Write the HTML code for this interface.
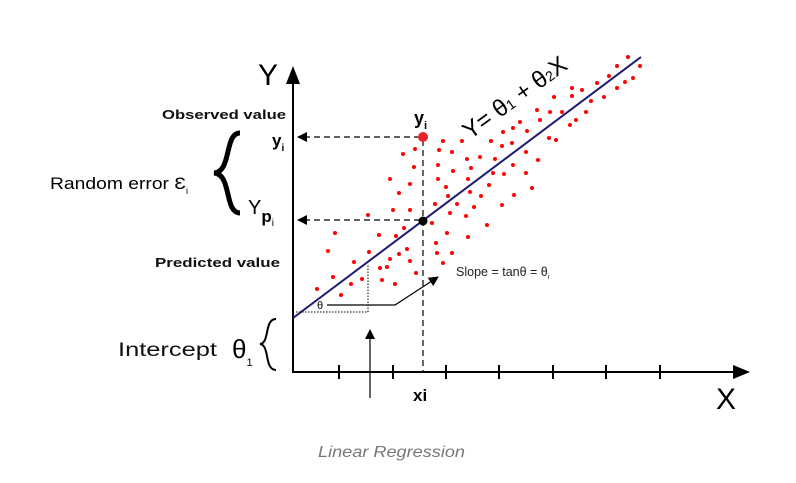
<!DOCTYPE html>
<html><head><meta charset="utf-8"><style>
body{margin:0;background:#fff}
svg{display:block}
text{font-family:"Liberation Sans",sans-serif}
</style></head><body>
<svg width="796" height="483" viewBox="0 0 796 483">
<defs>
<marker id="ah" markerWidth="10" markerHeight="10" refX="9" refY="5" orient="auto" markerUnits="userSpaceOnUse"><path d="M0,0 L10,5 L0,10 Z" fill="#000"/></marker>
</defs>
<line x1="293" y1="372" x2="293" y2="72" stroke="#000" stroke-width="2"/>
<path d="M286,84 L293,66 L300,84 Z" fill="#000"/>
<line x1="292" y1="372" x2="740" y2="372" stroke="#000" stroke-width="2"/>
<path d="M733,365 L750,372 L733,379 Z" fill="#000"/>
<g id="ticks" stroke="#000" stroke-width="2"></g>
<text x="258" y="85" font-size="30">Y</text>
<text x="716" y="409" font-size="30">X</text>
<text x="413" y="401" font-size="17" font-weight="bold">xi</text>
<g id="dots" fill="#f00"></g>
<line id="reg" stroke="#1a1a6e" stroke-width="2"/>
<line x1="423" y1="140" x2="423" y2="372" stroke="#000" stroke-dasharray="6,4" stroke-width="1.2"/>
<line x1="420" y1="137" x2="298" y2="137" stroke="#000" stroke-dasharray="6,4" stroke-width="1.2" marker-end="url(#ah)"/>
<line x1="420" y1="220" x2="298" y2="220" stroke="#000" stroke-dasharray="6,4" stroke-width="1.2" marker-end="url(#ah)"/>
<circle cx="423" cy="137" r="5" fill="#e8242b"/>
<circle cx="423" cy="221" r="4.5" fill="#000"/>
<text x="414" y="124" font-size="18" font-weight="bold">y<tspan font-size="11" dy="5">i</tspan></text>
<path d="M296,312 L368,312 L368,264" fill="none" stroke="#000" stroke-dasharray="1.5,1.5" stroke-width="1"/>
<text x="317" y="309" font-size="11">θ</text>
<path d="M327,305 L395,305 L438,277" fill="none" stroke="#000" stroke-width="1.2" marker-end="url(#ah)"/>
<text x="456" y="276" font-size="12.5" fill="#222">Slope = tanθ = θ<tspan font-size="7" dy="3">i</tspan></text>
<line x1="370" y1="398" x2="370" y2="330" stroke="#000" stroke-width="1.2" marker-end="url(#ah)"/>
<text transform="translate(470,140) rotate(-36)" font-size="24">Y= θ<tspan font-size="14">1</tspan> + θ<tspan font-size="14">2</tspan>X</text>
<text x="162" y="119" font-size="13" font-weight="bold" textLength="124" lengthAdjust="spacingAndGlyphs" fill="#111">Observed value</text>
<text x="272" y="146" font-size="17" font-weight="bold">y<tspan font-size="10" dy="5">i</tspan></text>
<text x="248" y="214" font-size="20">Y<tspan font-size="17" font-weight="bold" dy="8">p</tspan><tspan font-size="10" dy="4">i</tspan></text>
<text x="50" y="189" font-size="17"><tspan textLength="136" lengthAdjust="spacingAndGlyphs">Random error Ɛ</tspan><tspan font-size="9" dy="5">i</tspan></text>
<path d="M240,133 C224,133 232,172 214,173 C232,174 224,213 240,213" fill="none" stroke="#000" stroke-width="5"/>
<text x="155" y="267" font-size="13" font-weight="bold" textLength="125" lengthAdjust="spacingAndGlyphs" fill="#111">Predicted value</text>
<text x="118" y="356" font-size="19" textLength="99" lengthAdjust="spacingAndGlyphs" fill="#111">Intercept</text>
<text x="232" y="358" font-size="26">θ<tspan font-size="11" dy="8">1</tspan></text>
<path d="M276,319 C264,319 270,343 260,344 C270,345 264,370 276,370" fill="none" stroke="#000" stroke-width="2"/>
<text x="318" y="457" font-size="16" font-style="italic" fill="#777" textLength="147" lengthAdjust="spacingAndGlyphs">Linear Regression</text>
</svg>
<script>
const dotX=[317,328,333,335,341,351,354,362,368,369,379,380,382,387,390,393,395,396,399,399,390,403,404,407,410,410,410,414,415,416,432,435,436,437,439,438,438,443,443,446,447,448,450,452,452,453,457,462,466,467,468,468,470,471,474,480,481,487,489,491,493,495,502,502,503,504,512,513,513,514,520,526,526,527,532,537,538,540,549,550,554,556,562,570,572,572,576,582,586,591,597,604,609,617,617,625,628,633,640];
const dotY=[289,251,277,233,295,284,262,279,215,252,235,268,280,267,259,210,284,236,254,193,179,154,228,249,261,210,184,167,149,273,223,204,243,253,150,165,179,141,263,187,233,196,213,152,253,171,204,141,216,159,237,179,192,168,207,157,196,225,185,141,173,159,146,205,132,174,143,128,165,195,122,152,173,131,188,110,160,120,138,112,97,140,112,125,88,96,120,90,112,101,83,97,76,66,88,82,57,78,66];
const tickX=[339,393,446,499,553,606,660];
const lineStart=[293,318], lineEnd=[641,57];
const NS="http://www.w3.org/2000/svg";
const g=document.getElementById('dots');
for(let i=0;i<dotX.length;i++){const c=document.createElementNS(NS,'circle');c.setAttribute('cx',dotX[i]);c.setAttribute('cy',dotY[i]);c.setAttribute('r',2);


g.appendChild(c);}
const t=document.getElementById('ticks');
for(const x of tickX){const l=document.createElementNS(NS,'line');l.setAttribute('x1',x);l.setAttribute('x2',x);l.setAttribute('y1',365);l.setAttribute('y2',379);


t.appendChild(l);}
const r=document.getElementById('reg');r.setAttribute('x1',lineStart[0]);r.setAttribute('y1',lineStart[1]);r.setAttribute('x2',lineEnd[0]);r.setAttribute('y2',lineEnd[1]);
</script>
</body></html>
